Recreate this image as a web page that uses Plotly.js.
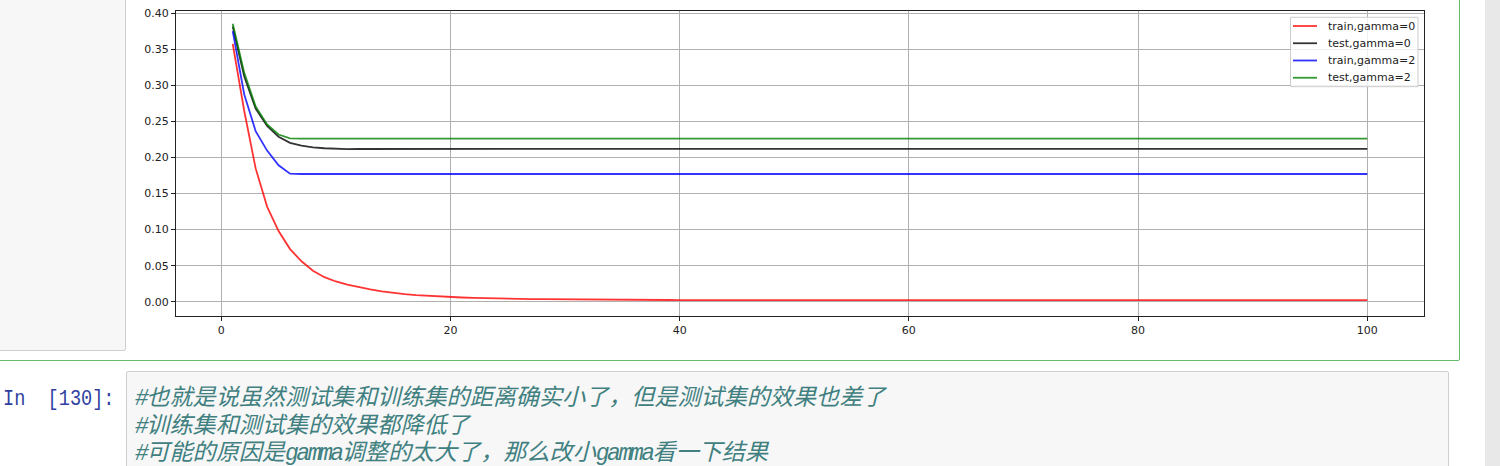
<!DOCTYPE html>
<html>
<head>
<meta charset="utf-8">
<script src="https://cdn.plot.ly/plotly-3.0.1.min.js"></script>
<style>
  body { margin: 0; width: 1500px; height: 466px; overflow: hidden; position: relative; background: #fff; }
  .box { position: absolute; background: #f7f7f7; border: 1px solid #cfcfcf; border-radius: 2px; }
  .lat { letter-spacing: -2.5px; }
</style>
</head>
<body>
<div class="box" style="left:-5px; top:-10px; width:129px; height:359px;"></div>
<div style="position:absolute; left:-10px; top:-10px; width:1468px; height:369px; border:1px solid #66bb6a; border-radius:2px;"></div>
<div id="myDiv" style="position:absolute; left:0; top:0; width:1459px; height:350px;"></div>
<div style="position:absolute; left:1485px; top:0; width:15px; height:466px; background:#e8e8e8;"></div>
<div class="box" style="left:126px; top:371px; width:1321px; height:120px;"></div>
<div style="position:absolute; left:3px; top:386px; font:22.4px 'Liberation Mono', monospace; line-height:27.7px; color:#303f9f; white-space:pre; transform:scaleX(0.83); transform-origin:left top;">In  [130]:</div>
<div style="position:absolute; left:135px; top:386px; font:italic 23.1px 'Liberation Mono', 'Noto Sans CJK SC', monospace; line-height:27.7px; color:#408080; white-space:pre;"><span class="lat">#</span>也就是说虽然测试集和训练集的距离确实小了，但是测试集的效果也差了
<span class="lat">#</span>训练集和测试集的效果都降低了
<span class="lat">#</span>可能的原因是<span class="lat">gamma</span>调整的太大了，那么改小<span class="lat">gamma</span>看一下结果</div>

<script>
// epochs
const epochs = [1,2,3,4,5,6,7,8,9,10,11,12,13,14,15,16,17,18,19,20,
  21,22,23,24,25,26,27,28,29,30,31,32,33,34,35,36,37,38,39,40,
  41,42,43,44,45,46,47,48,49,50,51,52,53,54,55,56,57,58,59,60,
  61,62,63,64,65,66,67,68,69,70,71,72,73,74,75,76,77,78,79,80,
  81,82,83,84,85,86,87,88,89,90,91,92,93,94,95,96,97,98,99,100];

// train, gamma=0
const trainG0 = [0.358,0.265,0.185,0.132,0.098,0.073,0.056,0.043,0.034,0.028,
  0.0235,0.020,0.017,0.0143,0.0122,0.0105,0.0092,0.0081,0.0072,0.0065,
  0.0058,0.0053,0.0048,0.0044,0.0041,0.0038,0.0036,0.0034,0.0032,0.0030,
  0.0029,0.0028,0.0027,0.0026,0.0025,0.0024,0.0024,0.0023,0.0023,0.0022,
  0.0022,0.0022,0.0022,0.0022,0.0022,0.0022,0.0022,0.0022,0.0022,0.0022,
  0.0022,0.0022,0.0022,0.0022,0.0022,0.0021,0.0021,0.0021,0.0021,0.0021,
  0.0021,0.0021,0.0021,0.0021,0.0021,0.0021,0.0021,0.0021,0.0021,0.0021,
  0.0021,0.0021,0.0021,0.0021,0.0021,0.0020,0.0020,0.0020,0.0020,0.0020,
  0.0020,0.0020,0.0020,0.0020,0.0020,0.0020,0.0020,0.0020,0.0020,0.0020,
  0.0020,0.0020,0.0020,0.0020,0.0020,0.0020,0.0020,0.0020,0.0020,0.0020];

// test, gamma=0
const testG0 = [0.382,0.313,0.268,0.244,0.229,0.2204,0.2167,0.2143,0.2130,0.2121,
  0.2118,0.2119,0.2120,0.2121,0.2121,0.2122,0.2122,0.2122,0.2122,0.2122,
  0.2122,0.2122,0.2122,0.2122,0.2122,0.2122,0.2122,0.2122,0.2122,0.2122,
  0.2122,0.2122,0.2122,0.2122,0.2122,0.2122,0.2122,0.2122,0.2122,0.2122,
  0.2122,0.2122,0.2122,0.2122,0.2122,0.2122,0.2122,0.2122,0.2122,0.2122,
  0.2122,0.2122,0.2122,0.2122,0.2122,0.2122,0.2122,0.2122,0.2122,0.2122,
  0.2122,0.2122,0.2122,0.2122,0.2122,0.2122,0.2122,0.2122,0.2122,0.2122,
  0.2122,0.2122,0.2122,0.2122,0.2122,0.2122,0.2122,0.2122,0.2122,0.2122,
  0.2122,0.2122,0.2122,0.2122,0.2122,0.2122,0.2122,0.2122,0.2122,0.2122,
  0.2122,0.2122,0.2122,0.2122,0.2122,0.2122,0.2122,0.2122,0.2122,0.2122];

// train, gamma=2
const trainG2 = [0.3755,0.288,0.2366,0.2097,0.1894,0.1776,0.1772,0.1772,0.1772,0.1772,
  0.1772,0.1772,0.1772,0.1772,0.1772,0.1772,0.1772,0.1772,0.1772,0.1772,
  0.1772,0.1772,0.1772,0.1772,0.1772,0.1772,0.1772,0.1772,0.1772,0.1772,
  0.1772,0.1772,0.1772,0.1772,0.1772,0.1772,0.1772,0.1772,0.1772,0.1772,
  0.1772,0.1772,0.1772,0.1772,0.1772,0.1772,0.1772,0.1772,0.1772,0.1772,
  0.1772,0.1772,0.1772,0.1772,0.1772,0.1772,0.1772,0.1772,0.1772,0.1772,
  0.1772,0.1772,0.1772,0.1772,0.1772,0.1772,0.1772,0.1772,0.1772,0.1772,
  0.1772,0.1772,0.1772,0.1772,0.1772,0.1772,0.1772,0.1772,0.1772,0.1772,
  0.1772,0.1772,0.1772,0.1772,0.1772,0.1772,0.1772,0.1772,0.1772,0.1772,
  0.1772,0.1772,0.1772,0.1772,0.1772,0.1772,0.1772,0.1772,0.1772,0.1772];

// test, gamma=2
const testG2 = [0.3857,0.318,0.271,0.246,0.232,0.2268,0.2262,0.2262,0.2262,0.2262,
  0.2262,0.2262,0.2262,0.2262,0.2262,0.2262,0.2262,0.2262,0.2262,0.2262,
  0.2262,0.2262,0.2262,0.2262,0.2262,0.2262,0.2262,0.2262,0.2262,0.2262,
  0.2262,0.2262,0.2262,0.2262,0.2262,0.2262,0.2262,0.2262,0.2262,0.2262,
  0.2262,0.2262,0.2262,0.2262,0.2262,0.2262,0.2262,0.2262,0.2262,0.2262,
  0.2262,0.2262,0.2262,0.2262,0.2262,0.2262,0.2262,0.2262,0.2262,0.2262,
  0.2262,0.2262,0.2262,0.2262,0.2262,0.2262,0.2262,0.2262,0.2262,0.2262,
  0.2262,0.2262,0.2262,0.2262,0.2262,0.2262,0.2262,0.2262,0.2262,0.2262,
  0.2262,0.2262,0.2262,0.2262,0.2262,0.2262,0.2262,0.2262,0.2262,0.2262,
  0.2262,0.2262,0.2262,0.2262,0.2262,0.2262,0.2262,0.2262,0.2262,0.2262];

const seriesNames = ["train,gamma=0", "test,gamma=0", "train,gamma=2", "test,gamma=2"];
const xTicks = [0, 20, 40, 60, 80, 100];
const yTicks = [0, 0.05, 0.10, 0.15, 0.20, 0.25, 0.30, 0.35, 0.40];

const lineColors = ["rgba(255,0,0,0.8)", "rgba(0,0,0,0.8)", "rgba(0,0,255,0.8)", "rgba(0,128,0,0.8)"];
const allSeries = [trainG0, testG0, trainG2, testG2];

const data = allSeries.map((ys, i) => ({
  x: epochs,
  y: ys,
  name: seriesNames[i],
  type: "scatter",
  mode: "lines",
  line: { color: lineColors[i], width: 1.8 }
}));

// plot area in pixels, used to place the matplotlib-style legend
const plotL = 176, plotT = 11, plotW = 1248, plotH = 305;
const dx = px => (px - plotL) / plotW;
const dy = py => 1 - (py - plotT) / plotH;

const shapes = [{
  type: "rect", xref: "paper", yref: "paper", layer: "above",
  x0: dx(1290.5), x1: dx(1418), y0: dy(86.7), y1: dy(17.3),
  line: { color: "#cccccc", width: 1 },
  fillcolor: "rgba(255,255,255,0.8)"
}];
const annotations = [];
seriesNames.forEach((name, i) => {
  const yy = 26 + i * 17.25;
  shapes.push({
    type: "line", xref: "paper", yref: "paper", layer: "above",
    x0: dx(1293), x1: dx(1317), y0: dy(yy), y1: dy(yy),
    line: { color: lineColors[i], width: 1.8 }
  });
  annotations.push({
    xref: "paper", yref: "paper", x: dx(1326), y: dy(yy),
    xanchor: "left", yanchor: "middle", showarrow: false,
    text: name, font: { family: "DejaVu Sans", size: 11, color: "#222" }
  });
});

const axisStyle = {
  ticks: "outside",
  ticklen: 4,
  tickwidth: 1,
  tickcolor: "#222",
  showline: true,
  linecolor: "#222",
  linewidth: 1,
  mirror: true,
  showgrid: true,
  gridcolor: "#b0b0b0",
  gridwidth: 1,
  zeroline: false
};

const layout = {
  width: 1459,
  height: 350,
  margin: { l: 176, r: 35, t: 11, b: 34, pad: 0 },
  paper_bgcolor: "rgba(0,0,0,0)",
  plot_bgcolor: "#fff",
  font: { family: "DejaVu Sans", size: 11, color: "#222" },
  xaxis: Object.assign({ range: [-3.95, 104.95], tickvals: xTicks }, axisStyle),
  yaxis: Object.assign({ range: [-0.0199, 0.4035], tickvals: yTicks, tickformat: ".2f" }, axisStyle),
  showlegend: false,
  shapes: shapes,
  annotations: annotations
};

Plotly.newPlot("myDiv", data, layout, { displayModeBar: false, staticPlot: true });
</script>
</body>
</html>
